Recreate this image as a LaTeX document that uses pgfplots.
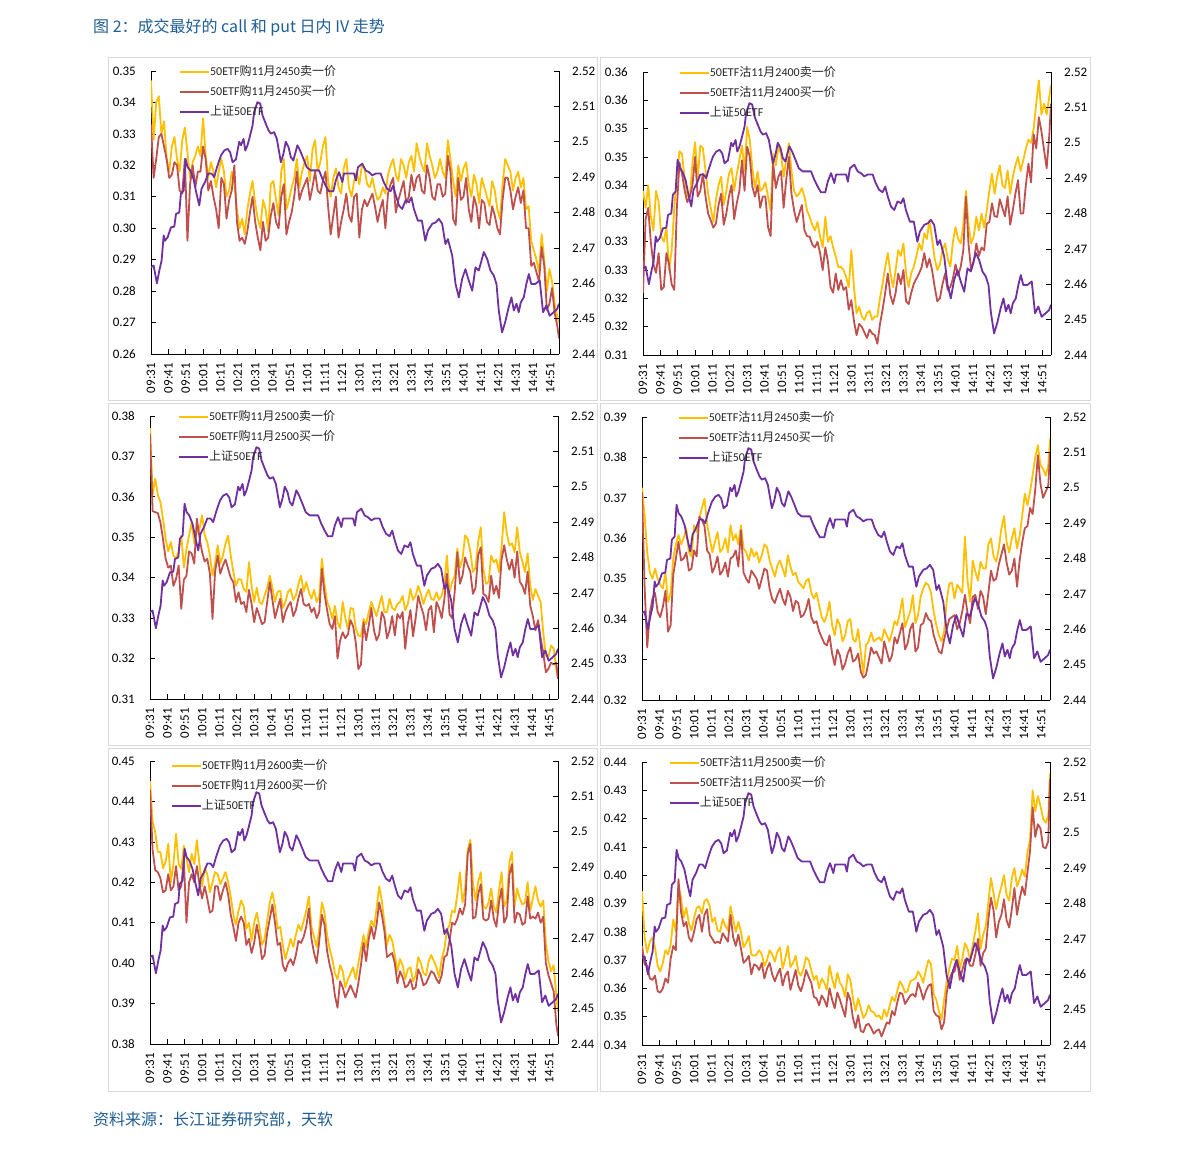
\documentclass[border=0pt]{standalone}
\usepackage{pgfplots}
\pgfplotsset{compat=1.18}
\usepackage{pgfplotstable}
\usepackage{fontspec}
\setmainfont{Carlito}
\newfontfamily\cjk{Noto Sans CJK SC}

\definecolor{sellc}{RGB}{255,192,0}
\definecolor{buyc}{RGB}{192,80,77}
\definecolor{etfc}{RGB}{112,48,160}
\definecolor{titlec}{RGB}{31,94,148}
\definecolor{framec}{RGB}{217,217,217}

% minute index: 0 = 09:31 ... 119 = 11:30, 120 = 13:01 ...
% s = ask IV (卖一价), b = bid IV (买一价)
\pgfplotstableread{
t s b
0 0.347 0.333
1.5 0.328 0.316
3 0.340 0.322
4.5 0.342 0.329
6 0.330 0.330
7.5 0.334 0.326
9 0.322 0.322
10.5 0.318 0.316
12 0.326 0.317
13.5 0.329 0.321
15 0.322 0.320
16.5 0.318 0.312
18 0.328 0.311
19.5 0.332 0.322
21 0.324 0.296
22.5 0.316 0.314
24 0.321 0.320
25.5 0.323 0.313
27 0.326 0.318
28.5 0.323 0.318
30 0.335 0.326
31.5 0.323 0.322
33 0.316 0.312
34.5 0.321 0.315
36 0.318 0.310
37.5 0.313 0.306
39 0.318 0.300
40.5 0.322 0.316
42 0.318 0.314
43.5 0.310 0.303
45 0.312 0.309
46.5 0.318 0.312
48 0.314 0.320
49.5 0.306 0.302
51 0.300 0.296
52.5 0.303 0.297
54 0.298 0.295
55.5 0.306 0.299
57 0.311 0.305
58.5 0.315 0.310
60 0.308 0.302
61.5 0.303 0.297
63 0.300 0.293
64.5 0.309 0.302
66 0.306 0.296
67.5 0.299 0.297
69 0.314 0.304
70.5 0.315 0.308
72 0.309 0.302
73.5 0.304 0.300
75 0.318 0.310
76.5 0.322 0.314
78 0.306 0.298
79.5 0.309 0.302
81 0.313 0.305
82.5 0.316 0.310
84 0.322 0.318
85.5 0.313 0.309
87 0.318 0.312
88.5 0.321 0.314
90 0.323 0.316
91.5 0.315 0.309
93 0.325 0.313
94.5 0.328 0.318
96 0.318 0.312
97.5 0.321 0.311
99 0.326 0.315
100.5 0.329 0.318
102 0.315 0.307
103.5 0.310 0.298
105 0.316 0.304
106.5 0.319 0.310
108 0.313 0.297
109.5 0.311 0.302
111 0.319 0.306
112.5 0.322 0.311
114 0.313 0.304
115.5 0.310 0.302
117 0.315 0.310
118.5 0.318 0.311
120 0.314 0.297
121.5 0.320 0.306
123 0.319 0.309
124.5 0.314 0.307
126 0.313 0.309
127.5 0.316 0.311
129 0.312 0.307
130.5 0.309 0.302
132 0.310 0.306
133.5 0.313 0.309
135 0.311 0.300
136.5 0.317 0.311
138 0.320 0.314
139.5 0.322 0.316
141 0.317 0.305
142.5 0.315 0.309
144 0.322 0.312
145.5 0.320 0.315
147 0.316 0.308
148.5 0.321 0.310
150 0.323 0.317
151.5 0.318 0.312
153 0.327 0.316
154.5 0.323 0.317
156 0.320 0.312
157.5 0.318 0.311
159 0.327 0.320
160.5 0.323 0.316
162 0.320 0.310
163.5 0.316 0.309
165 0.318 0.314
166.5 0.322 0.314
168 0.318 0.310
169.5 0.316 0.311
171 0.328 0.323
172.5 0.322 0.318
174 0.315 0.303
175.5 0.310 0.301
177 0.320 0.316
178.5 0.315 0.309
180 0.319 0.310
181.5 0.321 0.316
183 0.314 0.306
184.5 0.310 0.302
186 0.317 0.310
187.5 0.314 0.307
189 0.308 0.300
190.5 0.316 0.309
192 0.313 0.308
193.5 0.310 0.302
195 0.307 0.301
196.5 0.315 0.307
198 0.312 0.304
199.5 0.306 0.300
201 0.303 0.298
202.5 0.314 0.309
204 0.322 0.316
205.5 0.320 0.316
207 0.318 0.312
208.5 0.312 0.306
210 0.316 0.310
211.5 0.318 0.313
213 0.313 0.308
214.5 0.316 0.312
216 0.306 0.300
217.5 0.307 0.300
219 0.296 0.288
220.5 0.293 0.289
222 0.290 0.286
223.5 0.286 0.283
225 0.298 0.294
226.5 0.290 0.288
228 0.280 0.274
229.5 0.287 0.276
231 0.283 0.281
232.5 0.276 0.273
234 0.272 0.269
235 0.270 0.265
}\Pa

\pgfplotstableread{
t s b
0 0.3390 0.3210
1.5 0.3360 0.3340
3 0.3400 0.3360
4.5 0.3345 0.3300
6 0.3320 0.3260
7.5 0.3390 0.3245
9 0.3370 0.3280
10.5 0.3310 0.3215
12 0.3300 0.3220
13.5 0.3325 0.3280
15 0.3250 0.3260
16.5 0.3285 0.3225
18 0.3360 0.3215
19.5 0.3415 0.3360
21 0.3460 0.3440
22.5 0.3455 0.3420
24 0.3410 0.3390
25.5 0.3380 0.3370
27 0.3380 0.3380
28.5 0.3440 0.3400
30 0.3476 0.3450
31.5 0.3410 0.3380
33 0.3470 0.3390
34.5 0.3465 0.3420
36 0.3426 0.3380
37.5 0.3385 0.3350
39 0.3360 0.3338
40.5 0.3335 0.3325
42 0.3374 0.3332
43.5 0.3400 0.3365
45 0.3415 0.3385
46.5 0.3365 0.3330
48 0.3390 0.3350
49.5 0.3420 0.3380
51 0.3430 0.3400
52.5 0.3390 0.3340
54 0.3420 0.3368
55.5 0.3445 0.3390
57 0.3470 0.3444
58.5 0.3425 0.3390
60 0.3503 0.3468
61.5 0.3480 0.3450
63 0.3430 0.3397
64.5 0.3395 0.3380
66 0.3424 0.3400
67.5 0.3390 0.3360
69 0.3394 0.3380
70.5 0.3405 0.3380
72 0.3380 0.3326
73.5 0.3355 0.3310
75 0.3456 0.3438
76.5 0.3435 0.3395
78 0.3468 0.3415
79.5 0.3455 0.3425
81 0.3415 0.3360
82.5 0.3445 0.3410
84 0.3474 0.3450
85.5 0.3425 0.3385
87 0.3390 0.3356
88.5 0.3380 0.3335
90 0.3385 0.3350
91.5 0.3395 0.3365
93 0.3380 0.3320
94.5 0.3355 0.3310
96 0.3344 0.3309
97.5 0.3330 0.3295
99 0.3320 0.3290
100.5 0.3335 0.3300
102 0.3309 0.3280
103.5 0.3290 0.3250
105 0.3344 0.3290
106.5 0.3300 0.3265
108 0.3310 0.3220
109.5 0.3290 0.3210
111 0.3274 0.3244
112.5 0.3255 0.3215
114 0.3256 0.3232
115.5 0.3250 0.3215
117 0.3238 0.3220
118.5 0.3220 0.3180
120 0.3285 0.3197
121.5 0.3220 0.3160
123 0.3174 0.3135
124.5 0.3185 0.3155
126 0.3168 0.3150
127.5 0.3162 0.3140
129 0.3174 0.3130
130.5 0.3178 0.3145
132 0.3162 0.3138
133.5 0.3168 0.3135
135 0.3168 0.3120
136.5 0.3200 0.3155
138 0.3226 0.3180
139.5 0.3255 0.3210
141 0.3280 0.3244
142.5 0.3245 0.3205
144 0.3220 0.3190
145.5 0.3250 0.3210
147 0.3285 0.3244
148.5 0.3275 0.3225
150 0.3297 0.3250
151.5 0.3245 0.3195
153 0.3220 0.3190
154.5 0.3245 0.3210
156 0.3256 0.3226
157.5 0.3275 0.3235
159 0.3297 0.3244
160.5 0.3285 0.3255
162 0.3315 0.3280
163.5 0.3305 0.3255
165 0.3338 0.3270
166.5 0.3305 0.3250
168 0.3270 0.3220
169.5 0.3250 0.3195
171 0.3260 0.3200
172.5 0.3285 0.3225
174 0.3297 0.3244
175.5 0.3270 0.3215
177 0.3256 0.3220
178.5 0.3300 0.3235
180 0.3326 0.3260
181.5 0.3305 0.3240
183 0.3297 0.3256
184.5 0.3330 0.3285
186 0.3390 0.3380
187.5 0.3330 0.3295
189 0.3297 0.3250
190.5 0.3310 0.3265
192 0.3344 0.3297
193.5 0.3320 0.3275
195 0.3350 0.3290
196.5 0.3325 0.3285
198 0.3356 0.3332
199.5 0.3390 0.3335
201 0.3420 0.3368
202.5 0.3385 0.3345
204 0.3415 0.3344
205.5 0.3435 0.3375
207 0.3400 0.3360
208.5 0.3395 0.3345
210 0.3426 0.3380
211.5 0.3385 0.3330
213 0.3415 0.3356
214.5 0.3435 0.3385
216 0.3450 0.3409
217.5 0.3425 0.3350
219 0.3444 0.3350
220.5 0.3465 0.3400
222 0.3480 0.3438
223.5 0.3475 0.3405
225 0.3500 0.3490
226.5 0.3545 0.3465
228 0.3585 0.3520
229.5 0.3525 0.3495
231 0.3544 0.3462
232.5 0.3525 0.3430
234 0.3556 0.3488
235 0.3577 0.3544
}\Pb

\pgfplotstableread{
t s b
0 0.3770 0.3756
1.5 0.3605 0.3565
3 0.3645 0.3562
4.5 0.3605 0.3560
6 0.3587 0.3537
7.5 0.3545 0.3495
9 0.3496 0.3447
10.5 0.3465 0.3425
12 0.3488 0.3430
13.5 0.3455 0.3380
15 0.3447 0.3397
16.5 0.3465 0.3430
18 0.3504 0.3323
19.5 0.3425 0.3395
21 0.3470 0.3405
22.5 0.3505 0.3465
24 0.3537 0.3460
25.5 0.3485 0.3435
27 0.3513 0.3546
28.5 0.3520 0.3500
30 0.3554 0.3463
31.5 0.3505 0.3440
33 0.3488 0.3447
34.5 0.3455 0.3410
36 0.3405 0.3298
37.5 0.3435 0.3415
39 0.3480 0.3455
40.5 0.3435 0.3410
42 0.3455 0.3430
43.5 0.3485 0.3445
45 0.3504 0.3422
46.5 0.3455 0.3400
48 0.3414 0.3389
49.5 0.3380 0.3340
51 0.3397 0.3364
52.5 0.3395 0.3335
54 0.3372 0.3340
55.5 0.3365 0.3315
57 0.3438 0.3370
58.5 0.3380 0.3335
60 0.3340 0.3290
61.5 0.3375 0.3325
63 0.3340 0.3306
64.5 0.3335 0.3285
66 0.3356 0.3290
67.5 0.3375 0.3340
69 0.3405 0.3389
70.5 0.3375 0.3345
72 0.3340 0.3300
73.5 0.3365 0.3325
75 0.3368 0.3348
76.5 0.3325 0.3290
78 0.3340 0.3315
79.5 0.3365 0.3330
81 0.3372 0.3340
82.5 0.3345 0.3305
84 0.3356 0.3320
85.5 0.3385 0.3350
87 0.3405 0.3372
88.5 0.3365 0.3335
90 0.3389 0.3330
91.5 0.3365 0.3335
93 0.3348 0.3315
94.5 0.3370 0.3325
96 0.3340 0.3300
97.5 0.3355 0.3315
99 0.3447 0.3422
100.5 0.3385 0.3360
102 0.3340 0.3320
103.5 0.3325 0.3285
105 0.3298 0.3273
106.5 0.3330 0.3305
108 0.3290 0.3200
109.5 0.3275 0.3245
111 0.3340 0.3265
112.5 0.3300 0.3250
114 0.3273 0.3260
115.5 0.3325 0.3295
117 0.3323 0.3280
118.5 0.3275 0.3240
120 0.3257 0.3174
121.5 0.3255 0.3185
123 0.3298 0.3290
124.5 0.3285 0.3245
126 0.3315 0.3282
127.5 0.3340 0.3325
129 0.3323 0.3270
130.5 0.3305 0.3245
132 0.3331 0.3260
133.5 0.3355 0.3315
135 0.3315 0.3300
136.5 0.3315 0.3250
138 0.3348 0.3270
139.5 0.3325 0.3305
141 0.3320 0.3257
142.5 0.3335 0.3310
144 0.3340 0.3300
145.5 0.3355 0.3315
147 0.3320 0.3224
148.5 0.3335 0.3285
150 0.3372 0.3320
151.5 0.3345 0.3255
153 0.3356 0.3300
154.5 0.3380 0.3355
156 0.3360 0.3330
157.5 0.3335 0.3310
159 0.3356 0.3270
160.5 0.3370 0.3320
162 0.3348 0.3330
163.5 0.3345 0.3265
165 0.3364 0.3340
166.5 0.3345 0.3325
168 0.3356 0.3300
169.5 0.3385 0.3345
171 0.3455 0.3410
172.5 0.3365 0.3310
174 0.3389 0.3300
175.5 0.3405 0.3365
177 0.3472 0.3463
178.5 0.3425 0.3385
180 0.3447 0.3405
181.5 0.3505 0.3450
183 0.3496 0.3430
184.5 0.3465 0.3415
186 0.3414 0.3360
187.5 0.3425 0.3375
189 0.3488 0.3455
190.5 0.3525 0.3475
192 0.3422 0.3360
193.5 0.3385 0.3355
195 0.3389 0.3340
196.5 0.3455 0.3405
198 0.3438 0.3360
199.5 0.3445 0.3380
201 0.3414 0.3350
202.5 0.3475 0.3445
204 0.3562 0.3480
205.5 0.3510 0.3445
207 0.3480 0.3420
208.5 0.3485 0.3445
210 0.3463 0.3400
211.5 0.3525 0.3465
213 0.3463 0.3390
214.5 0.3440 0.3380
216 0.3414 0.3360
217.5 0.3460 0.3415
219 0.3381 0.3331
220.5 0.3345 0.3305
222 0.3372 0.3270
223.5 0.3355 0.3295
225 0.3340 0.3250
226.5 0.3265 0.3215
228 0.3207 0.3166
229.5 0.3205 0.3175
231 0.3232 0.3190
232.5 0.3225 0.3185
234 0.3174 0.3190
235 0.3150 0.3150
}\Pc

\pgfplotstableread{
t s b
0 0.3725 0.3715
1.5 0.3656 0.3480
3 0.3566 0.3330
4.5 0.3515 0.3415
6 0.3500 0.3450
7.5 0.3525 0.3465
9 0.3500 0.3418
10.5 0.3485 0.3405
12 0.3476 0.3430
13.5 0.3515 0.3470
15 0.3443 0.3369
16.5 0.3465 0.3385
18 0.3550 0.3510
19.5 0.3585 0.3550
21 0.3608 0.3591
22.5 0.3585 0.3545
24 0.3600 0.3550
25.5 0.3625 0.3565
27 0.3566 0.3520
28.5 0.3555 0.3525
30 0.3632 0.3570
31.5 0.3615 0.3555
33 0.3649 0.3653
34.5 0.3675 0.3645
36 0.3698 0.3630
37.5 0.3635 0.3570
39 0.3600 0.3560
40.5 0.3565 0.3515
42 0.3591 0.3530
43.5 0.3615 0.3555
45 0.3566 0.3510
46.5 0.3575 0.3520
48 0.3600 0.3540
49.5 0.3565 0.3505
51 0.3632 0.3550
52.5 0.3595 0.3555
54 0.3610 0.3570
55.5 0.3585 0.3530
57 0.3632 0.3620
58.5 0.3575 0.3515
60 0.3566 0.3500
61.5 0.3545 0.3490
63 0.3575 0.3520
64.5 0.3555 0.3510
66 0.3566 0.3500
67.5 0.3540 0.3475
69 0.3558 0.3500
70.5 0.3585 0.3525
72 0.3578 0.3520
73.5 0.3545 0.3475
75 0.3525 0.3450
76.5 0.3505 0.3440
78 0.3533 0.3460
79.5 0.3545 0.3475
81 0.3525 0.3450
82.5 0.3505 0.3435
84 0.3558 0.3470
85.5 0.3530 0.3455
87 0.3509 0.3420
88.5 0.3515 0.3445
90 0.3492 0.3440
91.5 0.3485 0.3405
93 0.3476 0.3410
94.5 0.3495 0.3425
96 0.3500 0.3450
97.5 0.3465 0.3405
99 0.3451 0.3390
100.5 0.3465 0.3395
102 0.3435 0.3370
103.5 0.3405 0.3355
105 0.3393 0.3340
106.5 0.3410 0.3335
108 0.3443 0.3360
109.5 0.3385 0.3315
111 0.3360 0.3286
112.5 0.3400 0.3325
114 0.3385 0.3310
115.5 0.3345 0.3275
117 0.3360 0.3290
118.5 0.3395 0.3315
120 0.3400 0.3330
121.5 0.3350 0.3295
123 0.3344 0.3300
124.5 0.3375 0.3315
126 0.3319 0.3270
127.5 0.3265 0.3255
129 0.3336 0.3262
130.5 0.3345 0.3295
132 0.3367 0.3330
133.5 0.3345 0.3315
135 0.3350 0.3320
136.5 0.3355 0.3305
138 0.3346 0.3290
139.5 0.3375 0.3345
141 0.3360 0.3320
142.5 0.3345 0.3295
144 0.3367 0.3310
145.5 0.3395 0.3355
147 0.3385 0.3340
148.5 0.3415 0.3365
150 0.3451 0.3390
151.5 0.3380 0.3325
153 0.3400 0.3340
154.5 0.3420 0.3375
156 0.3459 0.3390
157.5 0.3390 0.3320
159 0.3410 0.3330
160.5 0.3455 0.3385
162 0.3476 0.3390
163.5 0.3490 0.3415
165 0.3484 0.3400
166.5 0.3465 0.3395
168 0.3418 0.3360
169.5 0.3385 0.3340
171 0.3360 0.3320
172.5 0.3345 0.3315
174 0.3369 0.3350
175.5 0.3445 0.3375
177 0.3488 0.3400
178.5 0.3490 0.3405
180 0.3451 0.3410
181.5 0.3485 0.3375
183 0.3476 0.3390
184.5 0.3465 0.3420
186 0.3604 0.3460
187.5 0.3495 0.3415
189 0.3443 0.3390
190.5 0.3545 0.3455
192 0.3517 0.3460
193.5 0.3495 0.3425
195 0.3542 0.3470
196.5 0.3525 0.3455
198 0.3525 0.3412
199.5 0.3585 0.3465
201 0.3600 0.3520
202.5 0.3555 0.3495
204 0.3542 0.3500
205.5 0.3575 0.3535
207 0.3624 0.3560
208.5 0.3655 0.3585
210 0.3590 0.3540
211.5 0.3565 0.3510
213 0.3600 0.3520
214.5 0.3625 0.3550
216 0.3575 0.3480
217.5 0.3605 0.3545
219 0.3657 0.3590
220.5 0.3710 0.3625
222 0.3682 0.3630
223.5 0.3715 0.3675
225 0.3756 0.3660
226.5 0.3800 0.3720
228 0.3830 0.3805
229.5 0.3780 0.3735
231 0.3772 0.3700
232.5 0.3755 0.3715
234 0.3780 0.3730
235 0.3846 0.3810
}\Pd

\pgfplotstableread{
t s b
0 0.4450 0.4430
1.5 0.4350 0.4280
3 0.4324 0.4230
4.5 0.4275 0.4225
6 0.4275 0.4210
7.5 0.4235 0.4175
9 0.4250 0.4180
10.5 0.4295 0.4220
12 0.4200 0.4180
13.5 0.4245 0.4190
15 0.4320 0.4240
16.5 0.4245 0.4180
18 0.4233 0.4190
19.5 0.4290 0.4255
21 0.4260 0.4100
22.5 0.4225 0.4200
24 0.4270 0.4220
25.5 0.4245 0.4200
27 0.4304 0.4240
28.5 0.4245 0.4195
30 0.4190 0.4160
31.5 0.4235 0.4190
33 0.4220 0.4160
34.5 0.4175 0.4125
36 0.4200 0.4130
37.5 0.4225 0.4190
39 0.4220 0.4190
40.5 0.4195 0.4155
42 0.4210 0.4180
43.5 0.4225 0.4200
45 0.4200 0.4170
46.5 0.4165 0.4120
48 0.4120 0.4090
49.5 0.4095 0.4055
51 0.4130 0.4100
52.5 0.4155 0.4115
54 0.4140 0.4100
55.5 0.4085 0.4045
57 0.4100 0.4060
58.5 0.4055 0.4025
60 0.4100 0.4050
61.5 0.4125 0.4095
63 0.4090 0.4060
64.5 0.4045 0.4010
66 0.4060 0.4020
67.5 0.4105 0.4075
69 0.4150 0.4110
70.5 0.4175 0.4145
72 0.4140 0.4100
73.5 0.4085 0.4045
75 0.4090 0.4050
76.5 0.4045 0.3995
78 0.4010 0.3980
79.5 0.4035 0.4000
81 0.4060 0.4010
82.5 0.4040 0.3995
84 0.4070 0.4020
85.5 0.4095 0.4055
87 0.4080 0.4050
88.5 0.4105 0.4065
90 0.4130 0.4090
91.5 0.4165 0.4135
93 0.4090 0.4060
94.5 0.4065 0.4025
96 0.4040 0.4000
97.5 0.4085 0.4055
99 0.4150 0.4120
100.5 0.4125 0.4095
102 0.4070 0.4030
103.5 0.4035 0.3995
105 0.4010 0.3970
106.5 0.3975 0.3920
108 0.3960 0.3890
109.5 0.3995 0.3955
111 0.3980 0.3940
112.5 0.3940 0.3915
114 0.3960 0.3930
115.5 0.3975 0.3945
117 0.3990 0.3930
118.5 0.3960 0.3915
120 0.4000 0.3950
121.5 0.4035 0.3995
123 0.4070 0.4050
124.5 0.4040 0.4005
126 0.4080 0.4060
127.5 0.4105 0.4090
129 0.4090 0.4060
130.5 0.4135 0.4095
132 0.4190 0.4150
133.5 0.4155 0.4120
135 0.4100 0.4080
136.5 0.4045 0.4015
138 0.4070 0.4020
139.5 0.4055 0.4025
141 0.4020 0.4000
142.5 0.3980 0.3950
144 0.4010 0.3980
145.5 0.3995 0.3965
147 0.3960 0.3940
148.5 0.3985 0.3945
150 0.3990 0.3960
151.5 0.3955 0.3935
153 0.3970 0.3940
154.5 0.4015 0.3985
156 0.4000 0.3970
157.5 0.3975 0.3945
159 0.3970 0.3950
160.5 0.4005 0.3965
162 0.4020 0.3980
163.5 0.4005 0.3975
165 0.3990 0.3960
166.5 0.3965 0.3950
168 0.4010 0.3970
169.5 0.4035 0.4015
171 0.4080 0.4020
172.5 0.4095 0.4055
174 0.4130 0.4100
175.5 0.4125 0.4095
177 0.4170 0.4110
178.5 0.4225 0.4135
180 0.4150 0.4120
181.5 0.4185 0.4145
183 0.4280 0.4270
184.5 0.4305 0.4295
186 0.4200 0.4110
187.5 0.4155 0.4115
189 0.4200 0.4170
190.5 0.4225 0.4195
192 0.4140 0.4110
193.5 0.4135 0.4105
195 0.4150 0.4110
196.5 0.4185 0.4155
198 0.4140 0.4110
199.5 0.4125 0.4090
201 0.4180 0.4150
202.5 0.4225 0.4185
204 0.4140 0.4100
205.5 0.4155 0.4115
207 0.4250 0.4220
208.5 0.4275 0.4245
210 0.4140 0.4100
211.5 0.4185 0.4125
213 0.4160 0.4120
214.5 0.4145 0.4095
216 0.4150 0.4100
217.5 0.4200 0.4165
219 0.4130 0.4110
220.5 0.4160 0.4115
222 0.4190 0.4110
223.5 0.4155 0.4125
225 0.4140 0.4100
226.5 0.4155 0.4115
228 0.4050 0.4000
229.5 0.4005 0.3970
231 0.3980 0.3950
232.5 0.3995 0.3930
234 0.3920 0.3850
235 0.3880 0.3820
}\Pe

\pgfplotstableread{
t s b
0 0.3944 0.3750
1.5 0.3780 0.3685
3 0.3726 0.3680
4.5 0.3765 0.3635
6 0.3780 0.3630
7.5 0.3745 0.3645
9 0.3680 0.3590
10.5 0.3660 0.3585
12 0.3690 0.3600
13.5 0.3735 0.3635
15 0.3720 0.3620
16.5 0.3755 0.3705
18 0.3844 0.3750
19.5 0.3800 0.3735
21 0.3960 0.3986
22.5 0.3920 0.3870
24 0.3850 0.3820
25.5 0.3885 0.3835
27 0.3830 0.3780
28.5 0.3805 0.3765
30 0.3850 0.3800
31.5 0.3885 0.3845
33 0.3890 0.3860
34.5 0.3865 0.3800
36 0.3910 0.3860
37.5 0.3915 0.3880
39 0.3890 0.3790
40.5 0.3835 0.3775
42 0.3850 0.3760
43.5 0.3805 0.3765
45 0.3800 0.3760
46.5 0.3845 0.3795
48 0.3820 0.3780
49.5 0.3805 0.3765
51 0.3890 0.3860
52.5 0.3845 0.3780
54 0.3800 0.3750
55.5 0.3835 0.3790
57 0.3800 0.3740
58.5 0.3745 0.3690
60 0.3760 0.3700
61.5 0.3785 0.3715
63 0.3720 0.3650
64.5 0.3715 0.3685
66 0.3720 0.3680
67.5 0.3735 0.3665
69 0.3720 0.3690
70.5 0.3680 0.3635
72 0.3700 0.3670
73.5 0.3735 0.3690
75 0.3720 0.3650
76.5 0.3695 0.3625
78 0.3730 0.3650
79.5 0.3745 0.3670
81 0.3670 0.3610
82.5 0.3705 0.3645
84 0.3750 0.3660
85.5 0.3675 0.3595
87 0.3690 0.3630
88.5 0.3715 0.3665
90 0.3660 0.3610
91.5 0.3645 0.3590
93 0.3670 0.3620
94.5 0.3710 0.3665
96 0.3700 0.3640
97.5 0.3665 0.3620
99 0.3630 0.3570
100.5 0.3645 0.3565
102 0.3600 0.3540
103.5 0.3635 0.3575
105 0.3620 0.3560
106.5 0.3595 0.3535
108 0.3680 0.3600
109.5 0.3635 0.3560
111 0.3600 0.3530
112.5 0.3655 0.3585
114 0.3620 0.3560
115.5 0.3605 0.3530
117 0.3570 0.3500
118.5 0.3650 0.3585
120 0.3630 0.3560
121.5 0.3565 0.3495
123 0.3520 0.3460
124.5 0.3565 0.3505
126 0.3530 0.3450
127.5 0.3495 0.3445
129 0.3510 0.3470
130.5 0.3540 0.3475
132 0.3520 0.3460
133.5 0.3515 0.3440
135 0.3500 0.3450
136.5 0.3505 0.3455
138 0.3490 0.3430
139.5 0.3525 0.3455
141 0.3500 0.3480
142.5 0.3535 0.3475
144 0.3570 0.3520
145.5 0.3555 0.3505
147 0.3590 0.3550
148.5 0.3625 0.3585
150 0.3610 0.3580
151.5 0.3585 0.3545
153 0.3590 0.3560
154.5 0.3625 0.3575
156 0.3630 0.3580
157.5 0.3635 0.3570
159 0.3660 0.3620
160.5 0.3645 0.3595
162 0.3620 0.3560
163.5 0.3665 0.3590
165 0.3700 0.3610
166.5 0.3685 0.3615
168 0.3580 0.3520
169.5 0.3560 0.3505
171 0.3520 0.3500
172.5 0.3490 0.3455
174 0.3560 0.3480
175.5 0.3625 0.3585
177 0.3670 0.3630
178.5 0.3705 0.3655
180 0.3700 0.3660
181.5 0.3750 0.3700
183 0.3670 0.3630
184.5 0.3705 0.3665
186 0.3760 0.3700
187.5 0.3740 0.3705
189 0.3700 0.3680
190.5 0.3755 0.3680
192 0.3800 0.3720
193.5 0.3865 0.3775
195 0.3740 0.3680
196.5 0.3790 0.3725
198 0.3820 0.3740
199.5 0.3905 0.3845
201 0.3990 0.3920
202.5 0.3935 0.3875
204 0.3880 0.3780
205.5 0.3925 0.3835
207 0.3960 0.3860
208.5 0.4000 0.3915
210 0.3930 0.3840
211.5 0.3910 0.3815
213 0.3990 0.3880
214.5 0.4025 0.3955
216 0.3960 0.3860
217.5 0.3985 0.3915
219 0.4020 0.3960
220.5 0.3995 0.3930
222 0.4080 0.4010
223.5 0.4125 0.4085
225 0.4300 0.4240
226.5 0.4225 0.4135
228 0.4280 0.4180
229.5 0.4245 0.4165
231 0.4200 0.4100
232.5 0.4185 0.4095
234 0.4210 0.4120
235 0.4360 0.4340
}\Pf

% 上证50ETF price
\pgfplotstableread{
t v
0 2.4645
1.5 2.4650
3.4 2.4600
4.8 2.4636
6.1 2.4664
7.3 2.4735
8.0 2.4720
9.6 2.4730
11.5 2.4758
13.4 2.4760
14.4 2.4796
16.3 2.4800
17.2 2.4853
18.8 2.4862
19.9 2.4952
21.1 2.4928
22.6 2.4919
24.5 2.4895
25.9 2.4860
27.8 2.4820
29.1 2.4867
31.1 2.4886
33.0 2.4910
34.9 2.4910
36.4 2.4900
38.0 2.4928
40.3 2.4961
42.2 2.4975
44.1 2.4980
45.6 2.4970
47.0 2.4942
48.9 2.4950
50.8 2.5000
51.8 2.4990
53.3 2.5008
54.3 2.4975
55.6 2.4990
57.1 2.5018
58.5 2.5046
59.4 2.5084
61.3 2.5112
62.9 2.5108
64.2 2.5075
66.1 2.5051
67.7 2.5032
69.0 2.5023
70.9 2.5027
72.5 2.5008
74.8 2.4942
76.3 2.4966
77.6 2.5000
79.2 2.4985
80.5 2.4957
82.0 2.4947
84.3 2.4990
85.9 2.4975
88.2 2.4947
89.7 2.4928
92.0 2.4919
93.9 2.4919
96.8 2.4919
98.7 2.4895
100.6 2.4876
102.5 2.4860
105.0 2.4860
106.4 2.4890
108.3 2.4914
110.2 2.4886
111.2 2.4910
114.0 2.4910
117.0 2.4910
118.0 2.4890
119.2 2.4928
121.7 2.4938
123.6 2.4919
125.5 2.4914
127.4 2.4905
129.4 2.4910
132.3 2.4910
134.0 2.4886
136.0 2.4867
138.0 2.4860
139.5 2.4876
141.0 2.4848
142.8 2.4820
144.7 2.4810
146.6 2.4834
148.6 2.4829
150.0 2.4843
151.4 2.4810
153.7 2.4777
156.0 2.4777
158.0 2.4720
159.5 2.4749
162.0 2.4768
164.0 2.4772
165.8 2.4782
167.7 2.4768
169.6 2.4711
171.0 2.4725
173.5 2.4678
175.4 2.4598
177.3 2.4560
179.2 2.4612
181.1 2.4640
183.0 2.4608
185.0 2.4579
186.9 2.4645
188.8 2.4636
191.7 2.4688
193.6 2.4669
195.5 2.4636
197.4 2.4622
199.0 2.4598
200.3 2.4523
202.2 2.4461
204.0 2.4490
206.0 2.4532
207.6 2.4560
209.0 2.4523
210.5 2.4542
211.8 2.4518
213.0 2.4546
214.7 2.4560
216.2 2.4598
217.6 2.4626
219.0 2.4598
221.4 2.4598
223.9 2.4608
225.8 2.4518
227.7 2.4537
229.6 2.4508
231.9 2.4518
233.9 2.4527
235.0 2.4542
}\ETF

\pgfplotsset{
  sellline/.style={sellc, line width=1.8pt, line join=round},
  buyline/.style={buyc, line width=1.8pt, line join=round},
  etfline/.style={etfc, line width=1.8pt, line join=round},
  boxbase/.style={
    scale only axis, width=408pt, height=283pt,
    xmin=0, xmax=235,
    axis line style={-, black, line width=0.7pt},
    tick align=inside, major tick length=5pt,
    tick style={black, line width=0.7pt},
    ticklabel style={font=\fontsize{13}{15}\selectfont, inner sep=0pt},
  },
  ivaxis/.style={
    boxbase,
    axis x line*=bottom, axis y line*=left,
    xtick={0,10,...,230},
    xticklabels={09:31,09:41,09:51,10:01,10:11,10:21,10:31,10:41,10:51,11:01,11:11,11:21,13:01,13:11,13:21,13:31,13:41,13:51,14:01,14:11,14:21,14:31,14:41,14:51},
    xticklabel style={rotate=90, anchor=east},
    xticklabel shift=9pt,
    yticklabel shift=15pt,
  },
  etfaxis/.style={
    boxbase,
    axis x line=none, axis y line*=right,
    ymin=2.44, ymax=2.52,
    ytick={2.44,2.45,2.46,2.47,2.48,2.49,2.50,2.51,2.52},
    yticklabels={2.44,2.45,2.46,2.47,2.48,2.49,2.5,2.51,2.52},
    yticklabel shift=13pt,
    legend cell align=left,
    legend image code/.code={\draw[##1] (0pt,0pt) -- (29pt,0pt);},
    legend style={draw=none, fill=none, anchor=north west,
      font=\fontsize{12}{14}\selectfont, text=black!85,
      row sep=8pt, inner sep=0pt,
      nodes={inner sep=0pt, text height=9pt, text depth=3pt},
      /tikz/every even column/.append style={column sep=3pt}},
  },
}

% one chart: IV pair on the left axis, 50ETF on the right axis
\newcommand{\ivpanel}[7]{%
  \begin{axis}[ivaxis, at={#1}, anchor=south west, #3]
    \addplot[sellline] table[x=t, y=s] {#2};
    \addplot[buyline] table[x=t, y=b] {#2};
  \end{axis}
  \begin{axis}[etfaxis, at={#1}, anchor=south west,
      legend style={at={(axis description cs:#6,#7)}}]
    \addlegendimage{sellline}\addlegendentry{#4}
    \addlegendimage{buyline}\addlegendentry{#5}
    \addplot[etfline] table[x=t, y=v] {\ETF};
    \addlegendentry{{\cjk 上证}50ETF}
  \end{axis}}

\begin{document}
\begin{tikzpicture}[x=1pt, y=1pt]
  \fill[white] (0pt,0pt) rectangle (1191pt,1150pt);
  \node[anchor=west, text=titlec, font=\cjk\fontsize{16}{18}\selectfont, inner sep=0pt]
    at (93pt,1122pt) {图 2：成交最好的 call 和 put 日内 IV 走势};
  \node[anchor=west, text=titlec, font=\cjk\fontsize{16}{18}\selectfont, inner sep=0pt]
    at (93pt,30pt) {资料来源：长江证券研究部，天软};

  \begin{scope}[framec, line width=0.8pt]
    \draw (108pt,750pt) rectangle (597pt,1093pt);
    \draw (600pt,750pt) rectangle (1090pt,1093pt);
    \draw (108pt,405pt) rectangle (597pt,747pt);
    \draw (600pt,405pt) rectangle (1090pt,747pt);
    \draw (108pt,59pt) rectangle (597pt,402pt);
    \draw (600pt,59pt) rectangle (1090pt,402pt);
  \end{scope}

  \ivpanel{(151pt,796pt)}{\Pa}
    {ymin=0.26, ymax=0.35, ytick={0.26,0.27,0.28,0.29,0.30,0.31,0.32,0.33,0.34,0.35},
     yticklabels={0.26,0.27,0.28,0.29,0.30,0.31,0.32,0.33,0.34,0.35}}
    {50ETF{\cjk 购}11{\cjk 月}2450{\cjk 卖一价}}
    {50ETF{\cjk 购}11{\cjk 月}2450{\cjk 买一价}}
    {0.069}{1.018}

  \ivpanel{(643pt,795pt)}{\Pb}
    {ymin=0.31, ymax=0.36, ytick={0.31,0.315,0.32,0.325,0.33,0.335,0.34,0.345,0.35,0.355,0.36},
     yticklabels={0.31,0.32,0.32,0.33,0.33,0.34,0.34,0.35,0.35,0.36,0.36}}
    {50ETF{\cjk 沽}11{\cjk 月}2400{\cjk 卖一价}}
    {50ETF{\cjk 沽}11{\cjk 月}2400{\cjk 买一价}}
    {0.088}{1.018}

  \ivpanel{(150pt,451pt)}{\Pc}
    {ymin=0.31, ymax=0.38, ytick={0.31,0.32,0.33,0.34,0.35,0.36,0.37,0.38},
     yticklabels={0.31,0.32,0.33,0.34,0.35,0.36,0.37,0.38}}
    {50ETF{\cjk 购}11{\cjk 月}2500{\cjk 卖一价}}
    {50ETF{\cjk 购}11{\cjk 月}2500{\cjk 买一价}}
    {0.069}{1.018}

  \ivpanel{(642pt,450pt)}{\Pd}
    {ymin=0.32, ymax=0.39, ytick={0.32,0.33,0.34,0.35,0.36,0.37,0.38,0.39},
     yticklabels={0.32,0.33,0.34,0.35,0.36,0.37,0.38,0.39}}
    {50ETF{\cjk 沽}11{\cjk 月}2450{\cjk 卖一价}}
    {50ETF{\cjk 沽}11{\cjk 月}2450{\cjk 买一价}}
    {0.088}{1.018}

  \ivpanel{(150pt,106pt)}{\Pe}
    {ymin=0.38, ymax=0.45, ytick={0.38,0.39,0.40,0.41,0.42,0.43,0.44,0.45},
     yticklabels={0.38,0.39,0.40,0.41,0.42,0.43,0.44,0.45}}
    {50ETF{\cjk 购}11{\cjk 月}2600{\cjk 卖一价}}
    {50ETF{\cjk 购}11{\cjk 月}2600{\cjk 买一价}}
    {0.051}{1.004}

  \ivpanel{(642pt,105pt)}{\Pf}
    {ymin=0.34, ymax=0.44, ytick={0.34,0.35,0.36,0.37,0.38,0.39,0.40,0.41,0.42,0.43,0.44},
     yticklabels={0.34,0.35,0.36,0.37,0.38,0.39,0.40,0.41,0.42,0.43,0.44}}
    {50ETF{\cjk 沽}11{\cjk 月}2500{\cjk 卖一价}}
    {50ETF{\cjk 沽}11{\cjk 月}2500{\cjk 买一价}}
    {0.066}{1.018}
\end{tikzpicture}
\end{document}
